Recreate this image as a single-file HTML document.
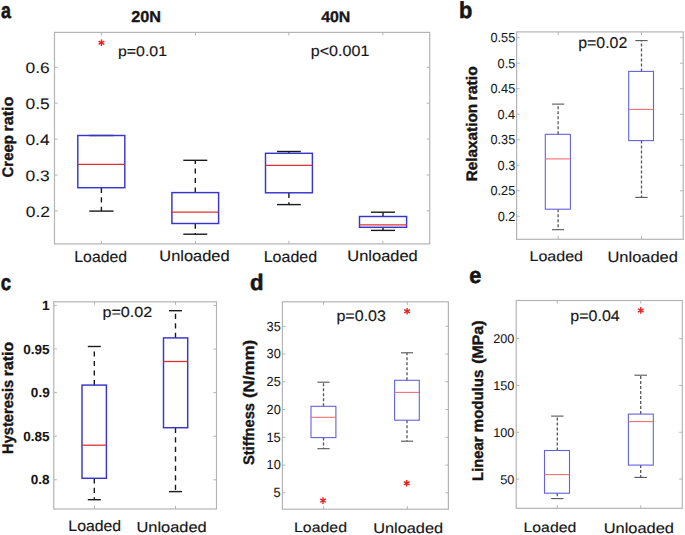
<!DOCTYPE html>
<html><head><meta charset="utf-8"><style>
html,body{margin:0;padding:0;background:#fff;}
svg{display:block;}
text{text-rendering:geometricPrecision;font-family:"Liberation Sans",sans-serif;fill:#161616;stroke:#161616;stroke-width:0.15px;}
text[font-weight]{stroke-width:0.35px;}
text.t{stroke-width:0.08px;}
text.L{stroke-width:0.6px;}
</style></head><body>
<svg width="685" height="535" viewBox="0 0 685 535">
<rect width="685" height="535" fill="#fff"/>
<rect x="54.5" y="32.4" width="375.2" height="211.5" fill="none" stroke="#b4b4b4" stroke-width="1.2"/>
<line x1="54.5" y1="67.3" x2="57.6" y2="67.3" stroke="#b4b4b4" stroke-width="1"/>
<line x1="429.7" y1="67.3" x2="426.6" y2="67.3" stroke="#b4b4b4" stroke-width="1"/>
<line x1="54.5" y1="103.2" x2="57.6" y2="103.2" stroke="#b4b4b4" stroke-width="1"/>
<line x1="429.7" y1="103.2" x2="426.6" y2="103.2" stroke="#b4b4b4" stroke-width="1"/>
<line x1="54.5" y1="139.1" x2="57.6" y2="139.1" stroke="#b4b4b4" stroke-width="1"/>
<line x1="429.7" y1="139.1" x2="426.6" y2="139.1" stroke="#b4b4b4" stroke-width="1"/>
<line x1="54.5" y1="175" x2="57.6" y2="175" stroke="#b4b4b4" stroke-width="1"/>
<line x1="429.7" y1="175" x2="426.6" y2="175" stroke="#b4b4b4" stroke-width="1"/>
<line x1="54.5" y1="210.9" x2="57.6" y2="210.9" stroke="#b4b4b4" stroke-width="1"/>
<line x1="429.7" y1="210.9" x2="426.6" y2="210.9" stroke="#b4b4b4" stroke-width="1"/>
<line x1="101.4" y1="243.9" x2="101.4" y2="240.8" stroke="#b4b4b4" stroke-width="1"/>
<line x1="101.4" y1="32.4" x2="101.4" y2="35.5" stroke="#b4b4b4" stroke-width="1"/>
<line x1="195.5" y1="243.9" x2="195.5" y2="240.8" stroke="#b4b4b4" stroke-width="1"/>
<line x1="195.5" y1="32.4" x2="195.5" y2="35.5" stroke="#b4b4b4" stroke-width="1"/>
<line x1="288.9" y1="243.9" x2="288.9" y2="240.8" stroke="#b4b4b4" stroke-width="1"/>
<line x1="288.9" y1="32.4" x2="288.9" y2="35.5" stroke="#b4b4b4" stroke-width="1"/>
<line x1="382.9" y1="243.9" x2="382.9" y2="240.8" stroke="#b4b4b4" stroke-width="1"/>
<line x1="382.9" y1="32.4" x2="382.9" y2="35.5" stroke="#b4b4b4" stroke-width="1"/>
<line x1="101.4" y1="187.7" x2="101.4" y2="211.1" stroke="#1a1a1a" stroke-width="1.4" stroke-dasharray="5.2 4.3"/>
<line x1="89.25" y1="135.5" x2="113.55" y2="135.5" stroke="#1a1a1a" stroke-width="1.4"/>
<line x1="89.25" y1="211.1" x2="113.55" y2="211.1" stroke="#1a1a1a" stroke-width="1.4"/>
<rect x="77.8" y="135.5" width="47" height="52.2" fill="none" stroke="#3636cc" stroke-width="1.45"/>
<line x1="77.8" y1="164.3" x2="124.8" y2="164.3" stroke="#dd3232" stroke-width="1.3"/>
<line x1="195.3" y1="192.6" x2="195.3" y2="160.3" stroke="#1a1a1a" stroke-width="1.4" stroke-dasharray="5.2 4.3"/>
<line x1="195.3" y1="223.5" x2="195.3" y2="234.2" stroke="#1a1a1a" stroke-width="1.4" stroke-dasharray="5.2 4.3"/>
<line x1="183.3" y1="160.3" x2="207.3" y2="160.3" stroke="#1a1a1a" stroke-width="1.4"/>
<line x1="183.3" y1="234.2" x2="207.3" y2="234.2" stroke="#1a1a1a" stroke-width="1.4"/>
<rect x="171.9" y="192.6" width="46.7" height="30.9" fill="none" stroke="#3636cc" stroke-width="1.45"/>
<line x1="171.9" y1="212.2" x2="218.6" y2="212.2" stroke="#dd3232" stroke-width="1.3"/>
<line x1="288.9" y1="153.3" x2="288.9" y2="151.5" stroke="#1a1a1a" stroke-width="1.4" stroke-dasharray="5.2 4.3"/>
<line x1="288.9" y1="192.8" x2="288.9" y2="204.6" stroke="#1a1a1a" stroke-width="1.4" stroke-dasharray="5.2 4.3"/>
<line x1="277" y1="151.5" x2="300.8" y2="151.5" stroke="#1a1a1a" stroke-width="1.4"/>
<line x1="277" y1="204.6" x2="300.8" y2="204.6" stroke="#1a1a1a" stroke-width="1.4"/>
<rect x="265.5" y="153.3" width="46.9" height="39.5" fill="none" stroke="#3636cc" stroke-width="1.45"/>
<line x1="265.5" y1="165.4" x2="312.4" y2="165.4" stroke="#dd3232" stroke-width="1.3"/>
<line x1="383" y1="216.5" x2="383" y2="212.2" stroke="#1a1a1a" stroke-width="1.4" stroke-dasharray="5.2 4.3"/>
<line x1="383" y1="227.3" x2="383" y2="230.4" stroke="#1a1a1a" stroke-width="1.4" stroke-dasharray="5.2 4.3"/>
<line x1="371" y1="212.2" x2="395" y2="212.2" stroke="#1a1a1a" stroke-width="1.4"/>
<line x1="371" y1="230.4" x2="395" y2="230.4" stroke="#1a1a1a" stroke-width="1.4"/>
<rect x="359.5" y="216.5" width="47.1" height="10.8" fill="none" stroke="#3636cc" stroke-width="1.45"/>
<line x1="359.5" y1="224.9" x2="406.6" y2="224.9" stroke="#dd3232" stroke-width="1.3"/>
<line x1="101.45" y1="39.4" x2="101.45" y2="46" stroke="#e8201c" stroke-width="1.4"/>
<line x1="98.59" y1="41.05" x2="104.31" y2="44.35" stroke="#e8201c" stroke-width="1.4"/>
<line x1="104.31" y1="41.05" x2="98.59" y2="44.35" stroke="#e8201c" stroke-width="1.4"/>
<rect x="516.6" y="31.9" width="166.6" height="207.4" fill="none" stroke="#b4b4b4" stroke-width="1.2"/>
<line x1="516.6" y1="37.7" x2="519.7" y2="37.7" stroke="#b4b4b4" stroke-width="1"/>
<line x1="683.2" y1="37.7" x2="680.1" y2="37.7" stroke="#b4b4b4" stroke-width="1"/>
<line x1="516.6" y1="63.21" x2="519.7" y2="63.21" stroke="#b4b4b4" stroke-width="1"/>
<line x1="683.2" y1="63.21" x2="680.1" y2="63.21" stroke="#b4b4b4" stroke-width="1"/>
<line x1="516.6" y1="88.72" x2="519.7" y2="88.72" stroke="#b4b4b4" stroke-width="1"/>
<line x1="683.2" y1="88.72" x2="680.1" y2="88.72" stroke="#b4b4b4" stroke-width="1"/>
<line x1="516.6" y1="114.23" x2="519.7" y2="114.23" stroke="#b4b4b4" stroke-width="1"/>
<line x1="683.2" y1="114.23" x2="680.1" y2="114.23" stroke="#b4b4b4" stroke-width="1"/>
<line x1="516.6" y1="139.74" x2="519.7" y2="139.74" stroke="#b4b4b4" stroke-width="1"/>
<line x1="683.2" y1="139.74" x2="680.1" y2="139.74" stroke="#b4b4b4" stroke-width="1"/>
<line x1="516.6" y1="165.25" x2="519.7" y2="165.25" stroke="#b4b4b4" stroke-width="1"/>
<line x1="683.2" y1="165.25" x2="680.1" y2="165.25" stroke="#b4b4b4" stroke-width="1"/>
<line x1="516.6" y1="190.76" x2="519.7" y2="190.76" stroke="#b4b4b4" stroke-width="1"/>
<line x1="683.2" y1="190.76" x2="680.1" y2="190.76" stroke="#b4b4b4" stroke-width="1"/>
<line x1="516.6" y1="216.27" x2="519.7" y2="216.27" stroke="#b4b4b4" stroke-width="1"/>
<line x1="683.2" y1="216.27" x2="680.1" y2="216.27" stroke="#b4b4b4" stroke-width="1"/>
<line x1="558.2" y1="239.3" x2="558.2" y2="236.2" stroke="#b4b4b4" stroke-width="1"/>
<line x1="558.2" y1="31.9" x2="558.2" y2="35" stroke="#b4b4b4" stroke-width="1"/>
<line x1="641.5" y1="239.3" x2="641.5" y2="236.2" stroke="#b4b4b4" stroke-width="1"/>
<line x1="641.5" y1="31.9" x2="641.5" y2="35" stroke="#b4b4b4" stroke-width="1"/>
<line x1="558.1" y1="134.3" x2="558.1" y2="104.1" stroke="#555555" stroke-width="1.3" stroke-dasharray="3 2"/>
<line x1="558.1" y1="209.2" x2="558.1" y2="229.7" stroke="#555555" stroke-width="1.3" stroke-dasharray="3 2"/>
<line x1="552" y1="104.1" x2="564.2" y2="104.1" stroke="#555555" stroke-width="1.1"/>
<line x1="552" y1="229.7" x2="564.2" y2="229.7" stroke="#555555" stroke-width="1.1"/>
<rect x="545.3" y="134.3" width="25.1" height="74.9" fill="none" stroke="#6262dc" stroke-width="1.1"/>
<line x1="545.3" y1="158.9" x2="570.4" y2="158.9" stroke="#f07070" stroke-width="1.1"/>
<line x1="641.5" y1="71.4" x2="641.5" y2="40.6" stroke="#555555" stroke-width="1.3" stroke-dasharray="3 2"/>
<line x1="641.5" y1="140.6" x2="641.5" y2="197.4" stroke="#555555" stroke-width="1.3" stroke-dasharray="3 2"/>
<line x1="635.35" y1="40.6" x2="647.65" y2="40.6" stroke="#555555" stroke-width="1.1"/>
<line x1="635.35" y1="197.4" x2="647.65" y2="197.4" stroke="#555555" stroke-width="1.1"/>
<rect x="628.7" y="71.4" width="24.8" height="69.2" fill="none" stroke="#6262dc" stroke-width="1.1"/>
<line x1="628.7" y1="109.4" x2="653.5" y2="109.4" stroke="#f07070" stroke-width="1.1"/>
<rect x="53.8" y="301.8" width="162.7" height="207.2" fill="none" stroke="#b4b4b4" stroke-width="1.2"/>
<line x1="53.8" y1="305.4" x2="56.9" y2="305.4" stroke="#b4b4b4" stroke-width="1"/>
<line x1="216.5" y1="305.4" x2="213.4" y2="305.4" stroke="#b4b4b4" stroke-width="1"/>
<line x1="53.8" y1="349" x2="56.9" y2="349" stroke="#b4b4b4" stroke-width="1"/>
<line x1="216.5" y1="349" x2="213.4" y2="349" stroke="#b4b4b4" stroke-width="1"/>
<line x1="53.8" y1="392.6" x2="56.9" y2="392.6" stroke="#b4b4b4" stroke-width="1"/>
<line x1="216.5" y1="392.6" x2="213.4" y2="392.6" stroke="#b4b4b4" stroke-width="1"/>
<line x1="53.8" y1="436.2" x2="56.9" y2="436.2" stroke="#b4b4b4" stroke-width="1"/>
<line x1="216.5" y1="436.2" x2="213.4" y2="436.2" stroke="#b4b4b4" stroke-width="1"/>
<line x1="53.8" y1="479.8" x2="56.9" y2="479.8" stroke="#b4b4b4" stroke-width="1"/>
<line x1="216.5" y1="479.8" x2="213.4" y2="479.8" stroke="#b4b4b4" stroke-width="1"/>
<line x1="94.5" y1="509" x2="94.5" y2="505.9" stroke="#b4b4b4" stroke-width="1"/>
<line x1="94.5" y1="301.8" x2="94.5" y2="304.9" stroke="#b4b4b4" stroke-width="1"/>
<line x1="175.5" y1="509" x2="175.5" y2="505.9" stroke="#b4b4b4" stroke-width="1"/>
<line x1="175.5" y1="301.8" x2="175.5" y2="304.9" stroke="#b4b4b4" stroke-width="1"/>
<line x1="94.3" y1="385.1" x2="94.3" y2="346.5" stroke="#1a1a1a" stroke-width="1.4" stroke-dasharray="5.2 4.3"/>
<line x1="94.3" y1="478.3" x2="94.3" y2="499.7" stroke="#1a1a1a" stroke-width="1.4" stroke-dasharray="5.2 4.3"/>
<line x1="87.8" y1="346.5" x2="100.8" y2="346.5" stroke="#1a1a1a" stroke-width="1.4"/>
<line x1="87.8" y1="499.7" x2="100.8" y2="499.7" stroke="#1a1a1a" stroke-width="1.4"/>
<rect x="82" y="385.1" width="24.4" height="93.2" fill="none" stroke="#3636cc" stroke-width="1.45"/>
<line x1="82" y1="445.2" x2="106.4" y2="445.2" stroke="#dd3232" stroke-width="1.3"/>
<line x1="175.5" y1="337.9" x2="175.5" y2="310.7" stroke="#1a1a1a" stroke-width="1.4" stroke-dasharray="5.2 4.3"/>
<line x1="175.5" y1="427.7" x2="175.5" y2="491.6" stroke="#1a1a1a" stroke-width="1.4" stroke-dasharray="5.2 4.3"/>
<line x1="169" y1="310.7" x2="182" y2="310.7" stroke="#1a1a1a" stroke-width="1.4"/>
<line x1="169" y1="491.6" x2="182" y2="491.6" stroke="#1a1a1a" stroke-width="1.4"/>
<rect x="163.5" y="337.9" width="24.2" height="89.8" fill="none" stroke="#3636cc" stroke-width="1.45"/>
<line x1="163.5" y1="361.5" x2="187.7" y2="361.5" stroke="#dd3232" stroke-width="1.3"/>
<rect x="282.4" y="301.8" width="166" height="207.4" fill="none" stroke="#b4b4b4" stroke-width="1.2"/>
<line x1="282.4" y1="326.3" x2="285.5" y2="326.3" stroke="#b4b4b4" stroke-width="1"/>
<line x1="448.4" y1="326.3" x2="445.3" y2="326.3" stroke="#b4b4b4" stroke-width="1"/>
<line x1="282.4" y1="354.05" x2="285.5" y2="354.05" stroke="#b4b4b4" stroke-width="1"/>
<line x1="448.4" y1="354.05" x2="445.3" y2="354.05" stroke="#b4b4b4" stroke-width="1"/>
<line x1="282.4" y1="381.8" x2="285.5" y2="381.8" stroke="#b4b4b4" stroke-width="1"/>
<line x1="448.4" y1="381.8" x2="445.3" y2="381.8" stroke="#b4b4b4" stroke-width="1"/>
<line x1="282.4" y1="409.55" x2="285.5" y2="409.55" stroke="#b4b4b4" stroke-width="1"/>
<line x1="448.4" y1="409.55" x2="445.3" y2="409.55" stroke="#b4b4b4" stroke-width="1"/>
<line x1="282.4" y1="437.3" x2="285.5" y2="437.3" stroke="#b4b4b4" stroke-width="1"/>
<line x1="448.4" y1="437.3" x2="445.3" y2="437.3" stroke="#b4b4b4" stroke-width="1"/>
<line x1="282.4" y1="465.05" x2="285.5" y2="465.05" stroke="#b4b4b4" stroke-width="1"/>
<line x1="448.4" y1="465.05" x2="445.3" y2="465.05" stroke="#b4b4b4" stroke-width="1"/>
<line x1="282.4" y1="492.8" x2="285.5" y2="492.8" stroke="#b4b4b4" stroke-width="1"/>
<line x1="448.4" y1="492.8" x2="445.3" y2="492.8" stroke="#b4b4b4" stroke-width="1"/>
<line x1="323.6" y1="509.2" x2="323.6" y2="506.1" stroke="#b4b4b4" stroke-width="1"/>
<line x1="323.6" y1="301.8" x2="323.6" y2="304.9" stroke="#b4b4b4" stroke-width="1"/>
<line x1="407.3" y1="509.2" x2="407.3" y2="506.1" stroke="#b4b4b4" stroke-width="1"/>
<line x1="407.3" y1="301.8" x2="407.3" y2="304.9" stroke="#b4b4b4" stroke-width="1"/>
<line x1="323.5" y1="406.3" x2="323.5" y2="382.2" stroke="#555555" stroke-width="1.3" stroke-dasharray="3 2"/>
<line x1="323.5" y1="437.6" x2="323.5" y2="448.7" stroke="#555555" stroke-width="1.3" stroke-dasharray="3 2"/>
<line x1="317.35" y1="382.2" x2="329.65" y2="382.2" stroke="#555555" stroke-width="1.1"/>
<line x1="317.35" y1="448.7" x2="329.65" y2="448.7" stroke="#555555" stroke-width="1.1"/>
<rect x="311" y="406.3" width="24.9" height="31.3" fill="none" stroke="#6262dc" stroke-width="1.1"/>
<line x1="311" y1="417.3" x2="335.9" y2="417.3" stroke="#f07070" stroke-width="1.1"/>
<line x1="407" y1="380.3" x2="407" y2="352.8" stroke="#555555" stroke-width="1.3" stroke-dasharray="3 2"/>
<line x1="407" y1="420.2" x2="407" y2="441.2" stroke="#555555" stroke-width="1.3" stroke-dasharray="3 2"/>
<line x1="400.95" y1="352.8" x2="413.05" y2="352.8" stroke="#555555" stroke-width="1.1"/>
<line x1="400.95" y1="441.2" x2="413.05" y2="441.2" stroke="#555555" stroke-width="1.1"/>
<rect x="394.6" y="380.3" width="24.7" height="39.9" fill="none" stroke="#6262dc" stroke-width="1.1"/>
<line x1="394.6" y1="392.4" x2="419.3" y2="392.4" stroke="#f07070" stroke-width="1.1"/>
<line x1="323" y1="497.3" x2="323" y2="503.9" stroke="#e8201c" stroke-width="1.4"/>
<line x1="320.14" y1="498.95" x2="325.86" y2="502.25" stroke="#e8201c" stroke-width="1.4"/>
<line x1="325.86" y1="498.95" x2="320.14" y2="502.25" stroke="#e8201c" stroke-width="1.4"/>
<line x1="407.1" y1="308" x2="407.1" y2="314.6" stroke="#e8201c" stroke-width="1.4"/>
<line x1="404.24" y1="309.65" x2="409.96" y2="312.95" stroke="#e8201c" stroke-width="1.4"/>
<line x1="409.96" y1="309.65" x2="404.24" y2="312.95" stroke="#e8201c" stroke-width="1.4"/>
<line x1="406.7" y1="479.9" x2="406.7" y2="486.5" stroke="#e8201c" stroke-width="1.4"/>
<line x1="403.84" y1="481.55" x2="409.56" y2="484.85" stroke="#e8201c" stroke-width="1.4"/>
<line x1="409.56" y1="481.55" x2="403.84" y2="484.85" stroke="#e8201c" stroke-width="1.4"/>
<rect x="516.2" y="300.5" width="166.1" height="207.8" fill="none" stroke="#b4b4b4" stroke-width="1.2"/>
<line x1="516.2" y1="338.6" x2="519.3" y2="338.6" stroke="#b4b4b4" stroke-width="1"/>
<line x1="682.3" y1="338.6" x2="679.2" y2="338.6" stroke="#b4b4b4" stroke-width="1"/>
<line x1="516.2" y1="385.43" x2="519.3" y2="385.43" stroke="#b4b4b4" stroke-width="1"/>
<line x1="682.3" y1="385.43" x2="679.2" y2="385.43" stroke="#b4b4b4" stroke-width="1"/>
<line x1="516.2" y1="432.26" x2="519.3" y2="432.26" stroke="#b4b4b4" stroke-width="1"/>
<line x1="682.3" y1="432.26" x2="679.2" y2="432.26" stroke="#b4b4b4" stroke-width="1"/>
<line x1="516.2" y1="479.09" x2="519.3" y2="479.09" stroke="#b4b4b4" stroke-width="1"/>
<line x1="682.3" y1="479.09" x2="679.2" y2="479.09" stroke="#b4b4b4" stroke-width="1"/>
<line x1="557.3" y1="508.3" x2="557.3" y2="505.2" stroke="#b4b4b4" stroke-width="1"/>
<line x1="557.3" y1="300.5" x2="557.3" y2="303.6" stroke="#b4b4b4" stroke-width="1"/>
<line x1="640.8" y1="508.3" x2="640.8" y2="505.2" stroke="#b4b4b4" stroke-width="1"/>
<line x1="640.8" y1="300.5" x2="640.8" y2="303.6" stroke="#b4b4b4" stroke-width="1"/>
<line x1="557.3" y1="450.5" x2="557.3" y2="416.1" stroke="#555555" stroke-width="1.3" stroke-dasharray="3 2"/>
<line x1="557.3" y1="493.2" x2="557.3" y2="498.6" stroke="#555555" stroke-width="1.3" stroke-dasharray="3 2"/>
<line x1="551.1" y1="416.1" x2="563.5" y2="416.1" stroke="#555555" stroke-width="1.1"/>
<line x1="551.1" y1="498.6" x2="563.5" y2="498.6" stroke="#555555" stroke-width="1.1"/>
<rect x="544.5" y="450.5" width="25" height="42.7" fill="none" stroke="#6262dc" stroke-width="1.1"/>
<line x1="544.5" y1="474.6" x2="569.5" y2="474.6" stroke="#f07070" stroke-width="1.1"/>
<line x1="640.7" y1="414.1" x2="640.7" y2="375.2" stroke="#555555" stroke-width="1.3" stroke-dasharray="3 2"/>
<line x1="640.7" y1="465.1" x2="640.7" y2="477.4" stroke="#555555" stroke-width="1.3" stroke-dasharray="3 2"/>
<line x1="634.45" y1="375.2" x2="646.95" y2="375.2" stroke="#555555" stroke-width="1.1"/>
<line x1="634.45" y1="477.4" x2="646.95" y2="477.4" stroke="#555555" stroke-width="1.1"/>
<rect x="628.4" y="414.1" width="24.9" height="51" fill="none" stroke="#6262dc" stroke-width="1.1"/>
<line x1="628.4" y1="421.6" x2="653.3" y2="421.6" stroke="#f07070" stroke-width="1.1"/>
<line x1="640.8" y1="307.1" x2="640.8" y2="313.7" stroke="#e8201c" stroke-width="1.4"/>
<line x1="637.94" y1="308.75" x2="643.66" y2="312.05" stroke="#e8201c" stroke-width="1.4"/>
<line x1="643.66" y1="308.75" x2="637.94" y2="312.05" stroke="#e8201c" stroke-width="1.4"/>
<text class="L" transform="translate(0.94 17.5) scale(0.802 1)" font-size="22.22" font-weight="bold">a</text>
<text class="L" transform="translate(458.89 17.8) scale(0.949 1)" font-size="22.95" font-weight="bold">b</text>
<text class="L" transform="translate(0.75 289.9) scale(0.828 1)" font-size="22.22" font-weight="bold">c</text>
<text class="L" transform="translate(249.91 289.5) scale(0.992 1)" font-size="22.33" font-weight="bold">d</text>
<text class="L" transform="translate(469.25 282.8) scale(0.948 1)" font-size="22.78" font-weight="bold">e</text>
<text transform="translate(131.31 22.3) scale(1.034 1)" font-size="15.71" font-weight="bold">20N</text>
<text transform="translate(321.14 21.7) scale(1.033 1)" font-size="15.43" font-weight="bold">40N</text>
<text transform="translate(117.95 56.1) scale(1.125 1)" font-size="14.14">p=0.01</text>
<text transform="translate(310.73 55.6) scale(1.073 1)" font-size="15">p&lt;0.001</text>
<text transform="translate(578.25 48.3) scale(1.012 1)" font-size="15.71">p=0.02</text>
<text transform="translate(102.43 317) scale(1.108 1)" font-size="14.57">p=0.02</text>
<text transform="translate(336.44 320.7) scale(1.050 1)" font-size="15.29">p=0.03</text>
<text transform="translate(570.34 320.7) scale(1.047 1)" font-size="15.29">p=0.04</text>
<text transform="translate(74.34 262) scale(1.021 1)" font-size="15.48">Loaded</text>
<text transform="translate(159.35 261.3) scale(1.078 1)" font-size="15.21">Unloaded</text>
<text transform="translate(263.72 262) scale(1.033 1)" font-size="15.48">Loaded</text>
<text transform="translate(347.35 261.3) scale(1.081 1)" font-size="15.21">Unloaded</text>
<text transform="translate(529.52 261) scale(1.136 1)" font-size="14.11">Loaded</text>
<text transform="translate(607.45 261.5) scale(1.113 1)" font-size="14.79">Unloaded</text>
<text transform="translate(68.34 531) scale(1.040 1)" font-size="15.21">Loaded</text>
<text transform="translate(136.45 532) scale(1.129 1)" font-size="14.52">Unloaded</text>
<text transform="translate(294.03 531.5) scale(1.147 1)" font-size="13.84">Loaded</text>
<text transform="translate(373.16 532.7) scale(1.147 1)" font-size="14.25">Unloaded</text>
<text transform="translate(523.54 531.5) scale(1.143 1)" font-size="13.84">Loaded</text>
<text transform="translate(603.65 532.7) scale(1.152 1)" font-size="14.25">Unloaded</text>
<text class="t" transform="translate(25.58 73.1) scale(1.152 1)" font-size="15.14">0.6</text>
<text class="t" transform="translate(25.58 109) scale(1.152 1)" font-size="15.14">0.5</text>
<text class="t" transform="translate(25.4 144.9) scale(1.152 1)" font-size="15.14">0.4</text>
<text class="t" transform="translate(25.58 180.8) scale(1.152 1)" font-size="15.14">0.3</text>
<text class="t" transform="translate(25.75 216.7) scale(1.152 1)" font-size="15.14">0.2</text>
<text class="t" transform="translate(490.52 42) scale(0.967 1)" font-size="13.14">0.55</text>
<text class="t" transform="translate(497.59 67.51) scale(0.967 1)" font-size="13.14">0.5</text>
<text class="t" transform="translate(490.52 93.02) scale(0.967 1)" font-size="13.14">0.45</text>
<text class="t" transform="translate(497.46 118.53) scale(0.967 1)" font-size="13.14">0.4</text>
<text class="t" transform="translate(490.52 144.04) scale(0.967 1)" font-size="13.14">0.35</text>
<text class="t" transform="translate(497.59 169.55) scale(0.967 1)" font-size="13.14">0.3</text>
<text class="t" transform="translate(490.52 195.06) scale(0.967 1)" font-size="13.14">0.25</text>
<text class="t" transform="translate(497.72 220.57) scale(0.967 1)" font-size="13.14">0.2</text>
<text class="t" transform="translate(41.92 310) scale(1.031 1)" font-size="13.33" font-weight="bold">1</text>
<text class="t" transform="translate(23.19 353.6) scale(1.031 1)" font-size="13.14" font-weight="bold">0.95</text>
<text class="t" transform="translate(30.86 397.2) scale(1.031 1)" font-size="13.14" font-weight="bold">0.9</text>
<text class="t" transform="translate(23.19 440.8) scale(1.031 1)" font-size="13.14" font-weight="bold">0.85</text>
<text class="t" transform="translate(30.73 484.4) scale(1.031 1)" font-size="13.14" font-weight="bold">0.8</text>
<text class="t" transform="translate(266.62 330.5) scale(0.967 1)" font-size="13.14">35</text>
<text class="t" transform="translate(266.62 358.25) scale(0.967 1)" font-size="13.14">30</text>
<text class="t" transform="translate(266.62 386) scale(0.967 1)" font-size="13.14">25</text>
<text class="t" transform="translate(266.62 413.75) scale(0.967 1)" font-size="13.14">20</text>
<text class="t" transform="translate(266.42 441.5) scale(0.967 1)" font-size="13.33">15</text>
<text class="t" transform="translate(266.62 469.25) scale(0.967 1)" font-size="13.14">10</text>
<text class="t" transform="translate(273.59 497) scale(0.967 1)" font-size="13.33">5</text>
<text class="t" transform="translate(493.16 343.1) scale(0.999 1)" font-size="12.71">200</text>
<text class="t" transform="translate(493.16 389.93) scale(0.999 1)" font-size="12.71">150</text>
<text class="t" transform="translate(493.16 436.76) scale(0.999 1)" font-size="12.71">100</text>
<text class="t" transform="translate(500.23 483.59) scale(0.999 1)" font-size="12.71">50</text>
<text transform="translate(13.1 177.4) rotate(-90) scale(0.973 1)" font-size="15.3" font-weight="bold">Creep</text>
<text transform="translate(13.1 131.57) rotate(-90) scale(1.058 1)" font-size="15.3" font-weight="bold">ratio</text>
<text transform="translate(477.2 181.22) rotate(-90) scale(1.000 1)" font-size="15.3" font-weight="bold">Relaxation</text>
<text transform="translate(477.2 100.45) rotate(-90) scale(1.036 1)" font-size="15.3" font-weight="bold">ratio</text>
<text transform="translate(13 453.88) rotate(-90) scale(0.956 1)" font-size="15.3" font-weight="bold">Hysteresis</text>
<text transform="translate(13 376.15) rotate(-90) scale(1.033 1)" font-size="15.3" font-weight="bold">ratio</text>
<text transform="translate(253.7 464.99) rotate(-90) scale(0.960 1)" font-size="15.3" font-weight="bold">Stiffness</text>
<text transform="translate(253.7 398.07) rotate(-90) scale(1.103 1)" font-size="15.3" font-weight="bold">(N/mm)</text>
<text transform="translate(483 480.89) rotate(-90) scale(0.968 1)" font-size="15.3" font-weight="bold">Linear</text>
<text transform="translate(483 432.2) rotate(-90) scale(0.981 1)" font-size="15.3" font-weight="bold">modulus</text>
<text transform="translate(483 363.74) rotate(-90) scale(1.038 1)" font-size="15.3" font-weight="bold">(MPa)</text>
</svg>
</body></html>
